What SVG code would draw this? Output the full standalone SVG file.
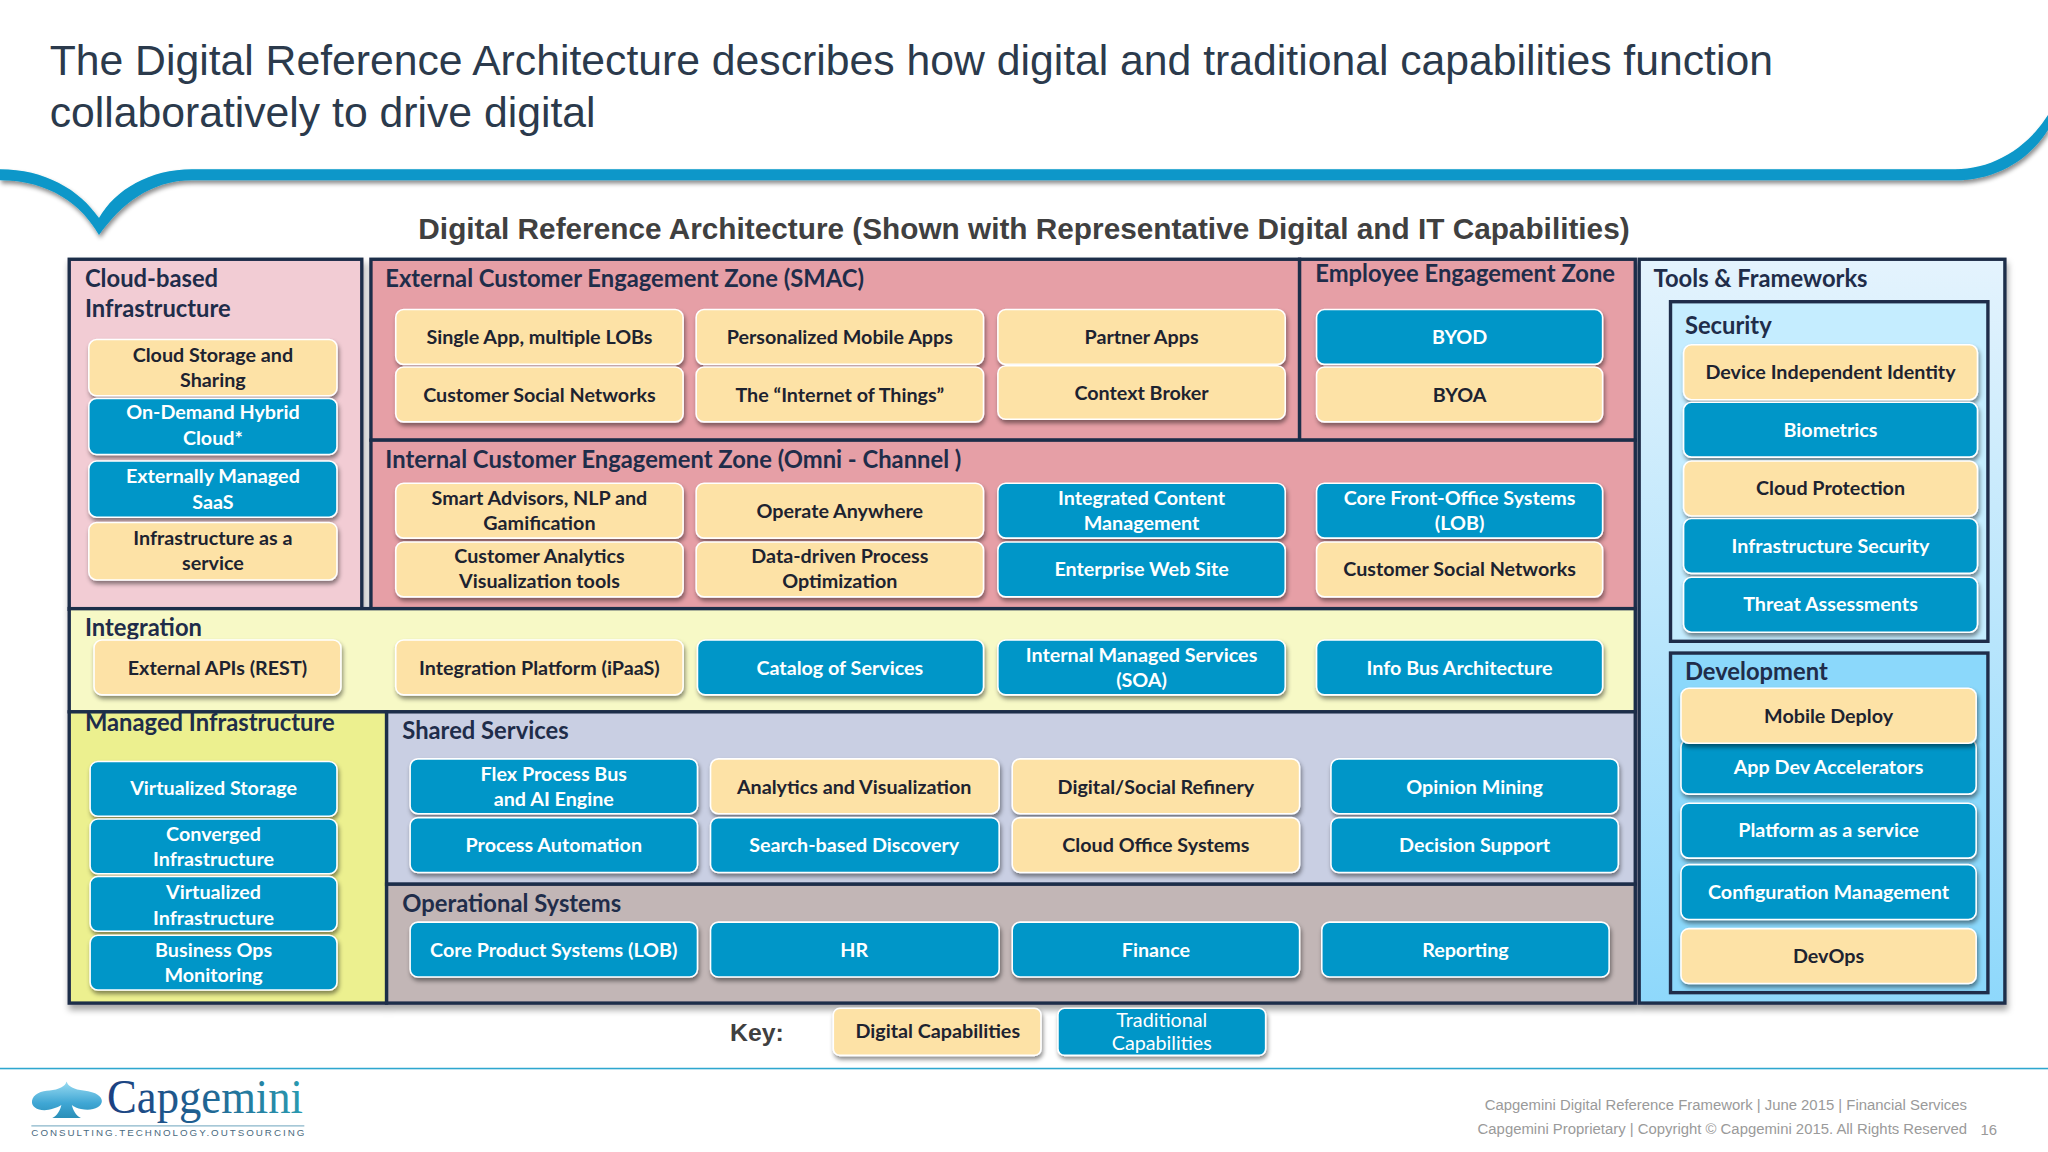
<svg xmlns="http://www.w3.org/2000/svg" width="2048" height="1152" viewBox="0 0 2048 1152">
<style>
text{font-family:"Lato","Carlito","Open Sans",sans-serif}
.y{fill:#fde2a6;stroke:#fff;stroke-width:1.2;filter:url(#s)}
.b{fill:#0096c8;stroke:#fff;stroke-width:1.2;filter:url(#s)}
.p{stroke:#1f2d4a;stroke-width:2.6}
.h{font-size:18.2px;font-weight:700;fill:#1f2d4a}
.l,.w{font-size:15.1px;font-weight:700;text-anchor:middle}
.l{fill:#1d2330}
.w{fill:#fff}
.t{font-family:"Liberation Sans",Arial,sans-serif;font-size:32.7px;fill:#2b3a4c}
.st{font-family:"Liberation Sans",Arial,sans-serif;font-size:22.8px;font-weight:700;fill:#404040;text-anchor:middle}
.f{font-family:"Liberation Sans",Arial,sans-serif;font-size:11.4px;fill:#9a9a9a;text-anchor:end}
</style>
<defs>
<filter id="s" x="-10%" y="-15%" width="120%" height="140%"><feDropShadow dx="1" dy="2.5" stdDeviation="1.8" flood-color="#000" flood-opacity=".45"/></filter>
<filter id="ps" x="-5%" y="-5%" width="110%" height="110%"><feDropShadow dx="1" dy="4" stdDeviation="2.5" flood-color="#000" flood-opacity=".35"/></filter>
<linearGradient id="tg" x1="0" y1="0" x2="0" y2="1"><stop offset="0" stop-color="#e4f3fd"/><stop offset="1" stop-color="#8ed8fb"/></linearGradient>
<linearGradient id="sp" x1="0" y1="0" x2="0" y2="1"><stop offset="0" stop-color="#9adcf2"/><stop offset=".6" stop-color="#3fa6d4"/><stop offset="1" stop-color="#2a8fb8"/></linearGradient>
<linearGradient id="cg" x1="0" y1="0" x2="1" y2="0"><stop offset="0" stop-color="#1c3f80"/><stop offset=".45" stop-color="#1f5f90"/><stop offset="1" stop-color="#2a9ab0"/></linearGradient>
</defs>
<rect width="2048" height="1152" fill="#fff"/>
<g transform="scale(1.30612)">
<g id="header">
<path d="M0,129.5 C34,129.5 61,145 75.8,167 C88,145 115,129.5 147,129.5 L1497,129.5 C1524,129.5 1551,115 1568,88 L1568,99.5 C1551,126 1524,138 1497,138 L147,138 C115,138 92,157 75.8,180 C63,157 38,138 0,138 Z" fill="#0897c9" filter="url(#s)"/>
<text class="t" x="38" y="57.500">The Digital Reference Architecture describes how digital and traditional capabilities function</text>
<text class="t" x="38" y="97">collaboratively to drive digital</text>
<text class="st" x="784" y="183">Digital Reference Architecture (Shown with Representative Digital and IT Capabilities)</text>
</g>
<g id="panels">
<g filter="url(#ps)">
<rect class="p" x="53" y="198.500" width="224" height="268" fill="#f2ccd4"/>
<rect class="p" x="284" y="198.500" width="711" height="138.500" fill="#e69fa6"/>
<rect class="p" x="995" y="198.500" width="257" height="138.500" fill="#e69fa6"/>
<rect class="p" x="284" y="337" width="968" height="129" fill="#e69fa6"/>
<rect class="p" x="53" y="466" width="1199" height="79" fill="#f7f9c6"/>
<rect class="p" x="53" y="545" width="243" height="223" fill="#ecf08f"/>
<rect class="p" x="296" y="545" width="956" height="132" fill="#c9cfe3"/>
<rect class="p" x="296" y="677" width="956" height="91" fill="#c2b6b6"/>
<rect class="p" x="1255" y="198.500" width="280" height="569.500" fill="url(#tg)"/>
</g>
<rect class="p" x="1279" y="231" width="243" height="260" fill="#c5edff"/>
<rect class="p" x="1279" y="500" width="243" height="260" fill="#8bd8fb"/>
<text class="h" x="65" y="220">Cloud-based</text><text class="h" x="65" y="243">Infrastructure</text>
<text class="h" x="295" y="220">External Customer Engagement Zone (SMAC)</text>
<text class="h" x="1007" y="216">Employee Engagement Zone</text>
<text class="h" x="295" y="358">Internal Customer Engagement Zone (Omni - Channel )</text>
<text class="h" x="65" y="487">Integration</text>
<text class="h" x="65" y="560">Managed Infrastructure</text>
<text class="h" x="308" y="566">Shared Services</text>
<text class="h" x="308" y="698">Operational Systems</text>
<text class="h" x="1266" y="220">Tools &amp; Frameworks</text>
<text class="h" x="1290" y="256">Security</text>
<text class="h" x="1290" y="521">Development</text>
</g>
<g id="n1"><rect class="y" x="68" y="260" width="190" height="43" rx="6"/><text class="l" x="163" y="277">Cloud Storage and</text><text class="l" x="163" y="296.500">Sharing</text></g>
<g id="n2"><rect class="b" x="68" y="305" width="190" height="43" rx="6"/><text class="w" x="163" y="321">On-Demand Hybrid</text><text class="w" x="163" y="341">Cloud*</text></g>
<g id="n3"><rect class="b" x="68" y="353" width="190" height="43" rx="6"/><text class="w" x="163" y="370">Externally Managed</text><text class="w" x="163" y="389.500">SaaS</text></g>
<g id="n4"><rect class="y" x="68" y="400" width="190" height="44" rx="6"/><text class="l" x="163" y="417">Infrastructure as a</text><text class="l" x="163" y="436.500">service</text></g>
<g id="n5"><rect class="y" x="303" y="237" width="220" height="42" rx="6"/><text class="l" x="413" y="263">Single App, multiple LOBs</text></g>
<g id="n6"><rect class="y" x="533" y="237" width="220" height="42" rx="6"/><text class="l" x="643" y="263">Personalized Mobile Apps</text></g>
<g id="n7"><rect class="y" x="764" y="237" width="220" height="42" rx="6"/><text class="l" x="874" y="263">Partner Apps</text></g>
<g id="n8"><rect class="b" x="1008" y="237" width="219" height="42" rx="6"/><text class="w" x="1117.500" y="263">BYOD</text></g>
<g id="n9"><rect class="y" x="303" y="281" width="220" height="42" rx="6"/><text class="l" x="413" y="307.500">Customer Social Networks</text></g>
<g id="n10"><rect class="y" x="533" y="281" width="220" height="42" rx="6"/><text class="l" x="643" y="307.500">The “Internet of Things”</text></g>
<g id="n11"><rect class="y" x="764" y="280" width="220" height="41" rx="6"/><text class="l" x="874" y="306.500">Context Broker</text></g>
<g id="n12"><rect class="y" x="1008" y="281" width="219" height="42" rx="6"/><text class="l" x="1117.500" y="307.500">BYOA</text></g>
<g id="n13"><rect class="y" x="303" y="370" width="220" height="42" rx="6"/><text class="l" x="413" y="386.500">Smart Advisors, NLP and</text><text class="l" x="413" y="406">Gamification</text></g>
<g id="n14"><rect class="y" x="533" y="370" width="220" height="42" rx="6"/><text class="l" x="643" y="396.500">Operate Anywhere</text></g>
<g id="n15"><rect class="b" x="764" y="370" width="220" height="42" rx="6"/><text class="w" x="874" y="386.500">Integrated Content</text><text class="w" x="874" y="406">Management</text></g>
<g id="n16"><rect class="b" x="1008" y="370" width="219" height="42" rx="6"/><text class="w" x="1117.500" y="386.500">Core Front-Office Systems</text><text class="w" x="1117.500" y="406">(LOB)</text></g>
<g id="n17"><rect class="y" x="303" y="415" width="220" height="42" rx="6"/><text class="l" x="413" y="431">Customer Analytics</text><text class="l" x="413" y="450.500">Visualization tools</text></g>
<g id="n18"><rect class="y" x="533" y="415" width="220" height="42" rx="6"/><text class="l" x="643" y="431">Data-driven Process</text><text class="l" x="643" y="450.500">Optimization</text></g>
<g id="n19"><rect class="b" x="764" y="415" width="220" height="42" rx="6"/><text class="w" x="874" y="441">Enterprise Web Site</text></g>
<g id="n20"><rect class="y" x="1008" y="415" width="219" height="42" rx="6"/><text class="l" x="1117.500" y="441">Customer Social Networks</text></g>
<g id="n21"><rect class="y" x="72" y="490" width="189" height="42" rx="6"/><text class="l" x="166.500" y="516.500">External APIs (REST)</text></g>
<g id="n22"><rect class="y" x="303" y="490" width="220" height="42" rx="6"/><text class="l" x="413" y="516.500">Integration Platform (iPaaS)</text></g>
<g id="n23"><rect class="b" x="534" y="490" width="219" height="42" rx="6"/><text class="w" x="643" y="516.500">Catalog of Services</text></g>
<g id="n24"><rect class="b" x="764" y="490" width="220" height="42" rx="6"/><text class="w" x="874" y="507">Internal Managed Services</text><text class="w" x="874" y="526">(SOA)</text></g>
<g id="n25"><rect class="b" x="1008" y="490" width="219" height="42" rx="6"/><text class="w" x="1117.500" y="516.500">Info Bus Architecture</text></g>
<g id="n26"><rect class="b" x="69" y="583" width="189" height="42" rx="6"/><text class="w" x="163.500" y="609">Virtualized Storage</text></g>
<g id="n27"><rect class="b" x="69" y="627" width="189" height="42" rx="6"/><text class="w" x="163.500" y="644">Converged</text><text class="w" x="163.500" y="663">Infrastructure</text></g>
<g id="n28"><rect class="b" x="69" y="671" width="189" height="42" rx="6"/><text class="w" x="163.500" y="688">Virtualized</text><text class="w" x="163.500" y="708">Infrastructure</text></g>
<g id="n29"><rect class="b" x="69" y="716" width="189" height="42" rx="6"/><text class="w" x="163.500" y="733">Business Ops</text><text class="w" x="163.500" y="752">Monitoring</text></g>
<g id="n30"><rect class="b" x="314" y="581" width="220" height="42" rx="6"/><text class="w" x="424" y="598">Flex Process Bus</text><text class="w" x="424" y="617">and AI Engine</text></g>
<g id="n31"><rect class="y" x="544" y="581" width="221" height="42" rx="6"/><text class="l" x="654" y="608">Analytics and Visualization</text></g>
<g id="n32"><rect class="y" x="775" y="581" width="220" height="42" rx="6"/><text class="l" x="885" y="608">Digital/Social Refinery</text></g>
<g id="n33"><rect class="b" x="1019" y="581" width="220" height="42" rx="6"/><text class="w" x="1129" y="608">Opinion Mining</text></g>
<g id="n34"><rect class="b" x="314" y="626" width="220" height="42" rx="6"/><text class="w" x="424" y="652">Process Automation</text></g>
<g id="n35"><rect class="b" x="544" y="626" width="221" height="42" rx="6"/><text class="w" x="654" y="652">Search-based Discovery</text></g>
<g id="n36"><rect class="y" x="775" y="626" width="220" height="42" rx="6"/><text class="l" x="885" y="652">Cloud Office Systems</text></g>
<g id="n37"><rect class="b" x="1019" y="626" width="220" height="42" rx="6"/><text class="w" x="1129" y="652">Decision Support</text></g>
<g id="n38"><rect class="b" x="314" y="706" width="220" height="42" rx="6"/><text class="w" x="424" y="733">Core Product Systems (LOB)</text></g>
<g id="n39"><rect class="b" x="544" y="706" width="221" height="42" rx="6"/><text class="w" x="654" y="733">HR</text></g>
<g id="n40"><rect class="b" x="775" y="706" width="220" height="42" rx="6"/><text class="w" x="885" y="733">Finance</text></g>
<g id="n41"><rect class="b" x="1012" y="706" width="220" height="42" rx="6"/><text class="w" x="1122" y="733">Reporting</text></g>
<g id="n42"><rect class="y" x="1289" y="264" width="225" height="42" rx="6"/><text class="l" x="1401.500" y="290">Device Independent Identity</text></g>
<g id="n43"><rect class="b" x="1289" y="308" width="225" height="42" rx="6"/><text class="w" x="1401.500" y="334.500">Biometrics</text></g>
<g id="n44"><rect class="y" x="1289" y="353" width="225" height="42" rx="6"/><text class="l" x="1401.500" y="379">Cloud Protection</text></g>
<g id="n45"><rect class="b" x="1289" y="397" width="225" height="42" rx="6"/><text class="w" x="1401.500" y="423.500">Infrastructure Security</text></g>
<g id="n46"><rect class="b" x="1289" y="442" width="225" height="42" rx="6"/><text class="w" x="1401.500" y="468">Threat Assessments</text></g>
<g id="n48"><rect class="b" x="1287" y="566" width="226" height="42" rx="6"/><text class="w" x="1400" y="592.500">App Dev Accelerators</text></g>
<g id="n47"><rect class="y" x="1287" y="527" width="226" height="42" rx="6"/><text class="l" x="1400" y="553.500">Mobile Deploy</text></g>
<g id="n49"><rect class="b" x="1287" y="615" width="226" height="42" rx="6"/><text class="w" x="1400" y="641">Platform as a service</text></g>
<g id="n50"><rect class="b" x="1287" y="662" width="226" height="42" rx="6"/><text class="w" x="1400" y="688">Configuration Management</text></g>
<g id="n51"><rect class="y" x="1287" y="711" width="226" height="42" rx="6"/><text class="l" x="1400" y="737">DevOps</text></g>
<g id="key">
<text x="579.500" y="797" style="font-family:'Liberation Sans',Arial,sans-serif;font-size:19px;font-weight:700;fill:#404040;text-anchor:middle">Key:</text>
<g id="n52"><rect class="y" x="638" y="772" width="159" height="36" rx="5"/><text class="l" x="718" y="795">Digital Capabilities</text></g>
<g id="n53"><rect class="b" x="810" y="772" width="159" height="36" rx="5"/><text class="w" x="889.500" y="786" style="font-weight:400">Traditional</text><text class="w" x="889.500" y="804" style="font-weight:400">Capabilities</text></g>
</g>
<g id="footer">
<rect x="0" y="817.500" width="1568" height="1.200" fill="#2ea7cf"/>
<path d="M51,828 C52,832 57,834 64,835 C74,836 78,840 78,843 C78,848 70,851 62,849 C60,849 56,847 55,846 C56,850 58,854 62,856 L40,856 C44,854 46,850 47,846 C44,848 38,850 34,850 C28,850 24,847 24.500,843 C25,838 32,835 38,835 C45,834 50,832 51,828 Z" fill="url(#sp)"/>
<text x="82" y="852" textLength="150" lengthAdjust="spacingAndGlyphs" style="font-family:'Liberation Serif',serif;font-size:37px;fill:url(#cg)">Capgemini</text>
<rect x="24" y="861.500" width="209" height="1" fill="#8fb9cc"/>
<text x="24" y="870" textLength="209" style="font-family:'Liberation Sans',sans-serif;font-size:7.500px;fill:#4a6a80">CONSULTING.TECHNOLOGY.OUTSOURCING</text>
<text class="f" x="1506" y="850">Capgemini Digital Reference Framework | June 2015 | Financial Services</text>
<text class="f" x="1506" y="868">Capgemini Proprietary | Copyright © Capgemini 2015. All Rights Reserved</text>
<text class="f" x="1529" y="869">16</text>
</g>
</g>
</svg>
